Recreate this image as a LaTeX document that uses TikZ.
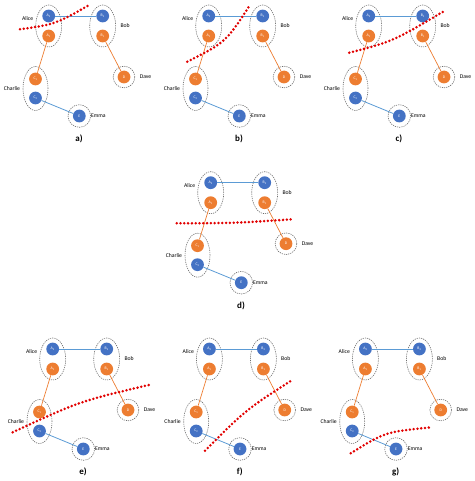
\documentclass[tikz,border=0pt]{standalone}
\usepackage{fontspec}
\setmainfont{Carlito}
\usetikzlibrary{positioning, shapes.geometric}
\definecolor{cBlue}{RGB}{68,114,196}
\definecolor{cOrange}{RGB}{237,125,49}
\definecolor{cLink}{RGB}{91,155,213}
\definecolor{cCut}{RGB}{225,0,0}
\definecolor{cGroup}{RGB}{110,110,110}

\begin{document}
\begin{tikzpicture}[x=1pt, y=-1pt,
    person/.style={circle, fill=#1, text=white, minimum size=12.8pt, inner sep=0pt, font=\fontsize{3.8}{4}\selectfont},
    group/.style={ellipse, draw=cGroup, dash pattern=on 1.2pt off 1pt, line width=0.6pt, inner sep=0pt},
    who/.style={font=\fontsize{5.7}{6}\selectfont, inner sep=0pt},
    bluelink/.style={cLink, line width=0.8pt},
    orangelink/.style={cOrange, line width=0.7pt},
    cut/.style={cCut, line width=2.8pt, line cap=round, dash pattern=on 0pt off 3.8pt},
    tag/.style={font=\fontsize{9}{10}\selectfont\bfseries}]
    \useasboundingbox (0,0) rectangle (474,481);

    \foreach \p/\dx/\dy/\cut in {
        a/0/0/{(20,29.3) .. controls (55.1,24.3) .. (89.3,5)},
        b/160/0/{(27.3,61.7) .. controls (65.8,42.2) .. (90,5)},
        c/320/0/{(29.3,52.7) .. controls (72.8,41.5) .. (126,10)},
        d/162/166.7/{(14.7,56.6) .. controls (71.9,56.5) .. (129.7,52.6)},
        e/4/333/{(8.7,99.3) .. controls (75.3,68.3) .. (147.7,51.3)},
        f/160.7/333/{(44.3,117.7) .. controls (85.2,76.7) .. (132.6,46.3)},
        g/316.7/333/{(34,120.3) .. controls (68.5,98.9) .. (115,94.3)}} {
    \begin{scope}[shift={(\dx,\dy)}]
        % groups
        \node[group, minimum width=26pt, minimum height=42pt] (alice-\p) at (48.7,26) {};
        \node[group, minimum width=26pt, minimum height=42pt] (bob-\p) at (102.7,26) {};
        \node[group, minimum width=25pt, minimum height=44pt] (charlie-\p) at (35.5,88.5) {};
        \node[group, circle, minimum size=21.6pt] (dave-\p) at (124,77) {};
        \node[group, circle, minimum size=22.6pt] (emma-\p) at (79.3,116) {};

        \node[who, left=2pt of alice-\p.west, yshift=7pt] {Alice};
        \node[who, right=4.3pt of bob-\p] {Bob};
        \node[who, left=2.5pt of charlie-\p] {Charlie};
        \node[who, right=4.5pt of dave-\p] {Dave};
        \node[who, right=0pt of emma-\p] {Emma};

        % parts
        \node[person=cBlue] (A2-\p) at (48.7,16) {A\textsubscript{2}};
        \node[person=cOrange] (A1-\p) at (48.7,36) {A\textsubscript{1}};
        \node[person=cBlue] (B2-\p) at (102.7,16) {B\textsubscript{2}};
        \node[person=cOrange] (B1-\p) at (102.7,36) {B\textsubscript{1}};
        \node[person=cOrange] (C1-\p) at (35.5,79) {C\textsubscript{1}};
        \node[person=cBlue] (C2-\p) at (35.5,98) {C\textsubscript{2}};
        \node[person=cOrange] (D-\p) at (124,77) {D};
        \node[person=cBlue] (E-\p) at (79.3,116) {E};

        \draw[bluelink] (A2-\p) -- (B2-\p);
        \draw[bluelink] (C2-\p) -- (E-\p);
        \draw[orangelink] (A1-\p) -- (C1-\p);
        \draw[orangelink] (B1-\p) -- (D-\p);

        \draw[cut] \cut;

        \node[tag] (tag-\p) at (79,139) {\p)};
    \end{scope}
    }
\end{tikzpicture}
\end{document}
